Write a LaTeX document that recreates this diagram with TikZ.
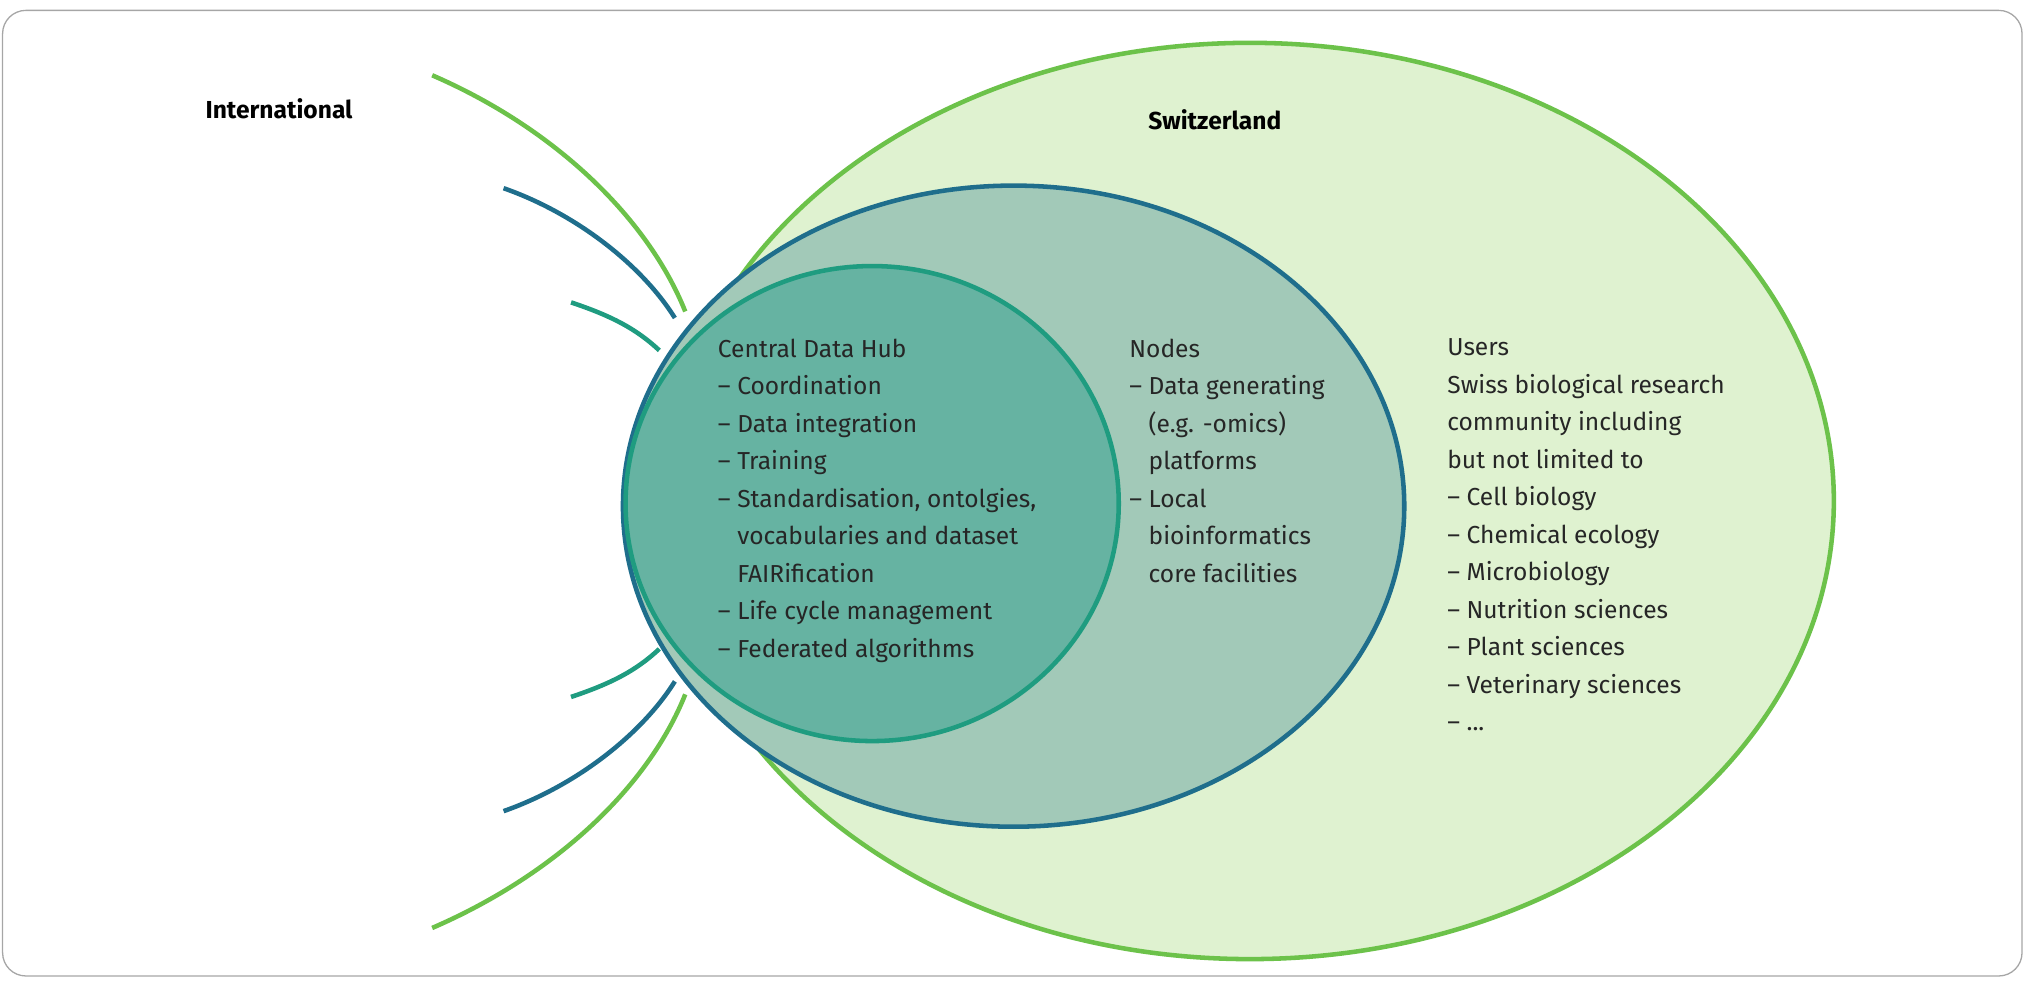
\documentclass[tikz,border=0pt]{standalone}
\usepackage{fontspec}
\setmainfont{Fira Sans}
\begin{document}
\begin{tikzpicture}[x=1bp,y=-1bp,
  txt/.style={anchor=north west,align=left,inner sep=0,font=\fontsize{19}{29}\selectfont,text=black!85},
  ttl/.style={font=\fontsize{19}{24}\selectfont\bfseries},
]
\definecolor{lg}{HTML}{DFF2D0}\definecolor{lgs}{HTML}{6CC24A}
\definecolor{bf}{HTML}{A2C9B8}\definecolor{bs}{HTML}{1F6E8C}
\definecolor{tf}{HTML}{66B3A2}\definecolor{ts}{HTML}{1F9C80}
\useasboundingbox (0,0) rectangle (1568,757);
\draw[gray!70,line width=1bp,rounded corners=18] (2,8) rectangle (1558,752);
% left arcs
\draw[lgs,line width=3.5bp] (333,58) .. controls (430,100) and (500,170) .. (528,240);
\draw[lgs,line width=3.5bp] (333,715) .. controls (430,673) and (500,605) .. (528,535);
\draw[bs,line width=3.5bp] (388,145) .. controls (445,165) and (495,205) .. (520,245);
\draw[bs,line width=3.5bp] (388,625) .. controls (445,605) and (495,565) .. (520,525);
\draw[ts,line width=3.5bp] (440,233) .. controls (470,243) and (490,253) .. (508,270);
\draw[ts,line width=3.5bp] (440,537) .. controls (470,527) and (490,517) .. (508,500);
% ellipses
\draw[lgs,fill=lg,line width=3.5bp] (963,386) ellipse [x radius=450,y radius=353];
\draw[bs,fill=bf,line width=3.5bp] (781,390) ellipse [x radius=301,y radius=247];
\draw[ts,fill=tf,line width=3.5bp] (672,388) ellipse [x radius=190,y radius=183];
% texts
\node[ttl] (intl) at (215,84) {International};
\node[ttl] (ch) at (936,92) {Switzerland};
\node[txt] (hub) at (553,261) {Central Data Hub\\
– Coordination\\
– Data integration\\
– Training\\
– Standardisation, ontolgies,\\
\phantom{– }vocabularies and dataset\\
\phantom{– }FAIRification\\
– Life cycle management\\
– Federated algorithms};
\node[txt] (nodes) at (870,261) {Nodes\\
– Data generating\\
\phantom{– }(e.g. -omics)\\
\phantom{– }platforms\\
– Local\\
\phantom{– }bioinformatics\\
\phantom{– }core facilities};
\node[txt] (users) at (1115,261) {Users\\
Swiss biological research\\
community including\\
but not limited to\\
– Cell biology\\
– Chemical ecology\\
– Microbiology\\
– Nutrition sciences\\
– Plant sciences\\
– Veterinary sciences\\
– ...};
\end{tikzpicture}
\end{document}
